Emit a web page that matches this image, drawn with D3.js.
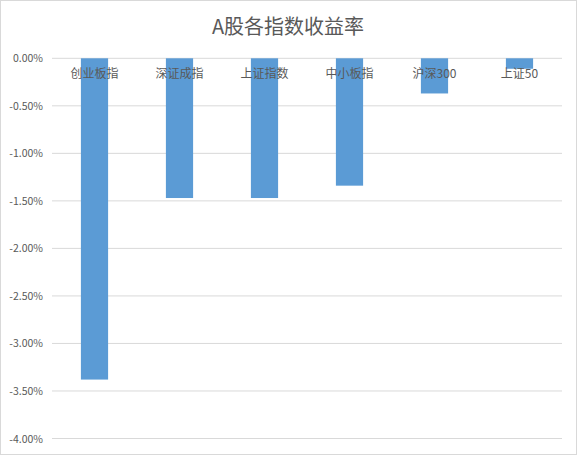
<!DOCTYPE html><html><head><meta charset="utf-8"><script src="https://cdn.jsdelivr.net/npm/d3@7"></script>
<style>body{margin:0;background:#fff}</style></head><body><svg id="c" width="577" height="455"></svg>
<script>
const categories=["创业板指","深证成指","上证指数","中小板指","沪深300","上证50"];
const values=[-3.38,-1.47,-1.47,-1.34,-0.37,-0.11];
const ticks=[0,-0.5,-1,-1.5,-2,-2.5,-3,-3.5,-4];
const svg=d3.select("#c");
const font="'Noto Sans CJK SC','Microsoft YaHei',sans-serif";
svg.append("rect").attr("x",0.5).attr("y",0.5).attr("width",576).attr("height",454).attr("fill","#fff").attr("stroke","#d9d9d9");
const x=d3.scaleBand().domain(categories).range([52,562]).paddingInner(0.68).paddingOuter(0.34);
const y=d3.scaleLinear().domain([-4,0]).range([438.5,58.3]);
svg.append("g").selectAll("line").data(ticks).join("line").attr("x1",52).attr("x2",562)
 .attr("y1",d=>y(d)).attr("y2",d=>y(d)).attr("stroke","#d9d9d9");
svg.append("g").selectAll("text").data(ticks).join("text").attr("x",43).attr("y",d=>y(d)+4)
 .attr("text-anchor","end").attr("font-size",10.5).attr("fill","#595959").attr("font-family",font)
 .text(d=>d.toFixed(2)+"%");
svg.append("g").selectAll("rect").data(values).join("rect").attr("x",(d,i)=>x(categories[i]))
 .attr("width",x.bandwidth()).attr("y",y(0)).attr("height",d=>y(d)-y(0)).attr("fill","#5b9bd5");
svg.append("g").selectAll("text").data(categories).join("text").attr("x",d=>x(d)+x.bandwidth()/2).attr("y",78)
 .attr("text-anchor","middle").attr("font-size",12).attr("fill","#595959").attr("font-family",font).text(d=>d);
svg.append("text").attr("x",288).attr("y",34).attr("text-anchor","middle").attr("font-size",20)
 .attr("fill","#595959").attr("font-family",font).text("A股各指数收益率");
</script></body></html>
